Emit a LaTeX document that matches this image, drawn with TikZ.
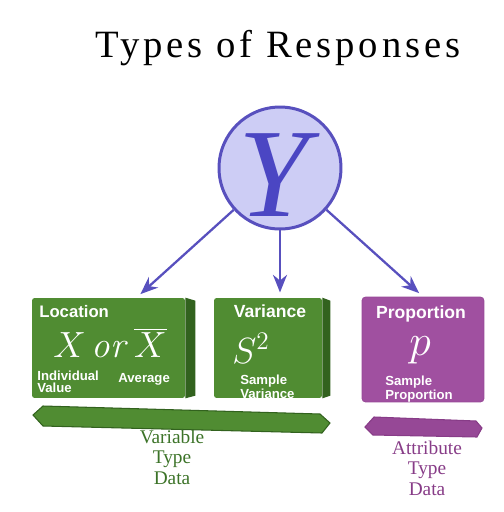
\documentclass[tikz,border=0pt]{standalone}
\usepackage{fontspec}
\usepackage{tikz}
\usetikzlibrary{arrows.meta}

\newfontfamily\titlefont[LetterSpace=10]{Liberation Serif}
\newfontfamily\boxfont{Liberation Sans}
\newfontfamily\datafont{Liberation Serif}

\definecolor{boxgreen}{RGB}{80,140,50}
\definecolor{sidegreen}{RGB}{50,98,30}
\definecolor{boxpurple}{RGB}{160,80,160}
\definecolor{barpurple}{RGB}{150,72,150}
\definecolor{ringblue}{RGB}{88,80,190}
\definecolor{discfill}{RGB}{205,205,245}
\definecolor{yblue}{RGB}{75,70,195}
\definecolor{datagreen}{RGB}{60,115,40}
\definecolor{datapurple}{RGB}{135,60,135}

\tikzset{
  disc/.style={circle,draw=ringblue,line width=1.7pt,fill=discfill,minimum size=2.44cm,inner sep=0pt},
  gbox/.style={rectangle,fill=boxgreen,rounded corners=1.5pt,minimum height=2cm,inner sep=0pt},
  pbox/.style={rectangle,fill=boxpurple,draw=barpurple,rounded corners=2pt,inner sep=0pt},
  arr/.style={-{Stealth[length=10pt,width=8pt]},draw=ringblue,line width=1.3pt,shorten >=3pt},
  boxhead/.style={text=white,font=\boxfont\bfseries\fontsize{10}{10}\selectfont,inner sep=0pt},
  boxsub/.style={text=white,font=\boxfont\bfseries\fontsize{7.5}{6.8}\selectfont,align=left,inner sep=0pt},
  boxsym/.style={text=white,inner sep=0pt},
  datatext/.style={font=\datafont\fontsize{11}{11.5}\selectfont,align=center,inner sep=0pt}
}

\begin{document}
\begin{tikzpicture}[x=0.02cm,y=-0.02cm]
  \useasboundingbox (0,0) rectangle (504,512);
  \node[font=\titlefont\fontsize{22}{22}\selectfont,anchor=base,inner sep=0pt] (title) at (278,57) {Types of Responses};
  % the response Y
  \node[disc] (yc) at (280,168) {};
  \node[text=yblue,font=\datafont\itshape\fontsize{72}{72}\selectfont,inner sep=0pt] (ylet) at (274,175) {Y};
  % three boxes
  \node[gbox,minimum width=3.06cm] (loc) at (108.5,348) {};
  \fill[sidegreen] (loc.north east) -- ++(10,3) -- ++(0,95) -- (loc.south east) -- cycle;
  \node[gbox,minimum width=2.16cm] (var) at (268,348) {};
  \fill[sidegreen] (var.north east) -- ++(8,3) -- ++(0,95) -- (var.south east) -- cycle;
  \node[pbox,minimum width=2.44cm,minimum height=2.1cm] (prop) at (423,349.5) {};
  \draw[arr] (yc) -- ([xshift=0.56cm]loc.north);
  \draw[arr] (yc.south) -- (yc.south |- var.north);
  \draw[arr] (yc) -- (prop.north);
  % box texts
  \node[boxhead,anchor=base west,font=\boxfont\bfseries\fontsize{9.5}{9.5}\selectfont] (lochead) at (39,317) {Location};
  \node[boxsym,anchor=base,font=\fontsize{21}{21}\selectfont] (locsym) at (110,357) {$X$\,\textit{or}\,$\overline{X}$};
  \node[boxsub,anchor=north west] (locind) at (37,371) {Individual\\Value};
  \node[boxsub,anchor=base west] (locavg) at (118,382) {Average};
  \node[boxhead,anchor=base] (varhead) at (270,317) {Variance};
  \node[boxsym,anchor=base,font=\fontsize{21}{21}\selectfont] (varsym) at (251,363) {$S^2$};
  \node[boxsub,anchor=north west] (varsub) at (240,375) {Sample\\Variance};
  \node[boxhead,anchor=base] (prophead) at (421,318) {Proportion};
  \node[boxsym,anchor=base,font=\fontsize{36}{36}\selectfont] (propsym) at (420,355) {$p$};
  \node[boxsub,anchor=north west] (propsub) at (385,376) {Sample\\Proportion};
  % data type bars
  \filldraw[fill=boxgreen,draw=sidegreen,line width=0.6pt] (33,415) -- (43,406) -- (320,414) -- (330,423) -- (322,433) -- (43,426) -- cycle;
  \filldraw[fill=barpurple,draw=datapurple,line width=0.6pt] (365,427) -- (374,417) -- (476,421) -- (482,428) -- (477,437) -- (373,435) -- cycle;
  \node[datatext,text=datagreen,anchor=north] (vdata) at (172,430) {Variable\\Type\\Data};
  \node[datatext,text=datapurple,anchor=north] (adata) at (427,441) {Attribute\\Type\\Data};
\end{tikzpicture}
\end{document}
